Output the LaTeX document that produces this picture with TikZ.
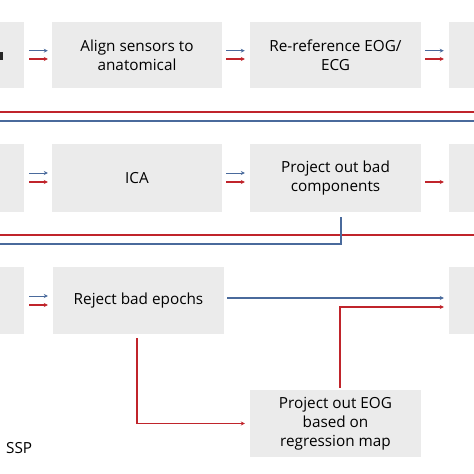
\documentclass[tikz,border=0pt]{standalone}
\usepackage{fontspec}
\setmainfont{Open Sans}
\usetikzlibrary{arrows.meta}
\definecolor{boxgray}{HTML}{EBEBEB}
\definecolor{lblue}{HTML}{4A6A9C}
\definecolor{lred}{HTML}{C0242B}
\begin{document}
\begin{tikzpicture}[x=1pt,y=-1pt,
  stage/.style={draw=none,fill=boxgray,inner sep=0pt,align=center,font=\fontsize{15.3}{19}\selectfont},
  bl/.style={draw=lblue,line width=1.3pt},
  rd/.style={draw=lred,line width=1.3pt},
  tipb/.style={-{Stealth[length=4pt,width=4pt]}},
]
\useasboundingbox (0,0) rectangle (474,474);
\begin{scope}
\clip (0,0) rectangle (474,474);
% left fragments
\node[stage,minimum width=74pt,minimum height=66pt] (L1) at (-13,55) {};
\node[stage,minimum width=74pt,minimum height=68pt] (L2) at (-13,178) {};
\node[stage,minimum width=74pt,minimum height=67pt] (L3) at (-13,300.5) {};
% right fragments
\node[stage,minimum width=74pt,minimum height=66pt] (R1) at (486,55) {};
\node[stage,minimum width=74pt,minimum height=68pt] (R2) at (486,178) {};
\node[stage,minimum width=74pt,minimum height=67pt] (R3) at (486,300.5) {};
\end{scope}
% glyph fragment at left edge
\fill[black!85] (0,52) rectangle (2.5,59.5);
% main stages
\node[stage,minimum width=170pt,minimum height=66pt] (A1) at (137,55) {Align sensors to\\anatomical};
\node[stage,minimum width=171pt,minimum height=66pt] (B1) at (335.5,55) {Re-reference EOG/\\ECG};
\node[stage,minimum width=170pt,minimum height=68pt] (ICA) at (137,178) {ICA};
\node[stage,minimum width=171pt,minimum height=68pt] (POB) at (335.5,178) {Project out bad\\components};
\node[stage,minimum width=171pt,minimum height=67pt] (REJ) at (138.5,300.5) {Reject bad epochs};
\node[stage,minimum width=171pt,minimum height=67pt] (PEOG) at (335.5,423.5) {Project out EOG\\based on\\regression map};
\node[font=\fontsize{15.3}{19}\selectfont,anchor=west,inner sep=0pt] (SSP) at (6,448) {SSP};
% short arrows row 1
\draw[bl,line width=1pt,tipb] ([xshift=5pt,yshift=4.3pt]L1.east) -- ([xshift=-4pt,yshift=4.3pt]A1.west);
\draw[rd,line width=1.2pt,tipb] ([xshift=5pt,yshift=-4pt]L1.east) -- ([xshift=-4pt,yshift=-4pt]A1.west);
\draw[bl,line width=1pt,tipb] ([xshift=4pt,yshift=4.3pt]A1.east) -- ([xshift=-5pt,yshift=4.3pt]B1.west);
\draw[rd,line width=1.2pt,tipb] ([xshift=4pt,yshift=-4pt]A1.east) -- ([xshift=-5pt,yshift=-4pt]B1.west);
\draw[bl,line width=1pt,tipb] ([xshift=4pt,yshift=4.3pt]B1.east) -- ([xshift=-5pt,yshift=4.3pt]R1.west);
\draw[rd,line width=1.2pt,tipb] ([xshift=4pt,yshift=-4pt]B1.east) -- ([xshift=-5pt,yshift=-4pt]R1.west);
% long lines row 1
\coordinate (r1a) at (0,112); \coordinate (r1b) at (474,112);
\coordinate (b1a) at (0,121); \coordinate (b1b) at (474,121);
\draw[rd] (r1a) -- (r1b);
\draw[bl] (b1a) -- (b1b);
% short arrows row 2
\draw[bl,line width=1pt,tipb] ([xshift=5pt,yshift=5pt]L2.east) -- ([xshift=-4pt,yshift=5pt]ICA.west);
\draw[rd,line width=1.2pt,tipb] ([xshift=5pt,yshift=-4pt]L2.east) -- ([xshift=-4pt,yshift=-4pt]ICA.west);
\draw[bl,line width=1pt,tipb] ([xshift=4pt,yshift=5pt]ICA.east) -- ([xshift=-5pt,yshift=5pt]POB.west);
\draw[rd,line width=1.2pt,tipb] ([xshift=4pt,yshift=-4pt]ICA.east) -- ([xshift=-5pt,yshift=-4pt]POB.west);
\draw[rd,line width=1.2pt,tipb] ([xshift=4pt,yshift=-4pt]POB.east) -- ([xshift=-5pt,yshift=-4pt]R2.west);
% long lines row 2
\coordinate (r2a) at (0,235); \coordinate (r2b) at (474,235);
\coordinate (b2a) at (0,244);
\draw[rd] (r2a) -- (r2b);
\draw[bl] ([xshift=5.5pt,yshift=-5pt]POB.south) |- (b2a);
% short arrows row 3
\draw[bl,line width=1pt,tipb] ([xshift=5pt,yshift=4.5pt]L3.east) -- ([xshift=-5pt,yshift=4.5pt]REJ.west);
\draw[rd,line width=1.2pt,tipb] ([xshift=5pt,yshift=-4.5pt]L3.east) -- ([xshift=-5pt,yshift=-4.5pt]REJ.west);
% reject -> right
\draw[bl,tipb] ([xshift=3pt,yshift=2.5pt]REJ.east) -- ([xshift=-5pt,yshift=2.5pt]R3.west);
% reject -> PEOG
\draw[rd,tipb] ([xshift=-1.5pt,yshift=-4pt]REJ.south) |- ([xshift=-5pt]PEOG.west);
% PEOG -> right
\draw[rd,tipb] ([xshift=4.5pt,yshift=2pt]PEOG.north) |- ([xshift=-5pt,yshift=-6.5pt]R3.west);
\end{tikzpicture}
\end{document}
